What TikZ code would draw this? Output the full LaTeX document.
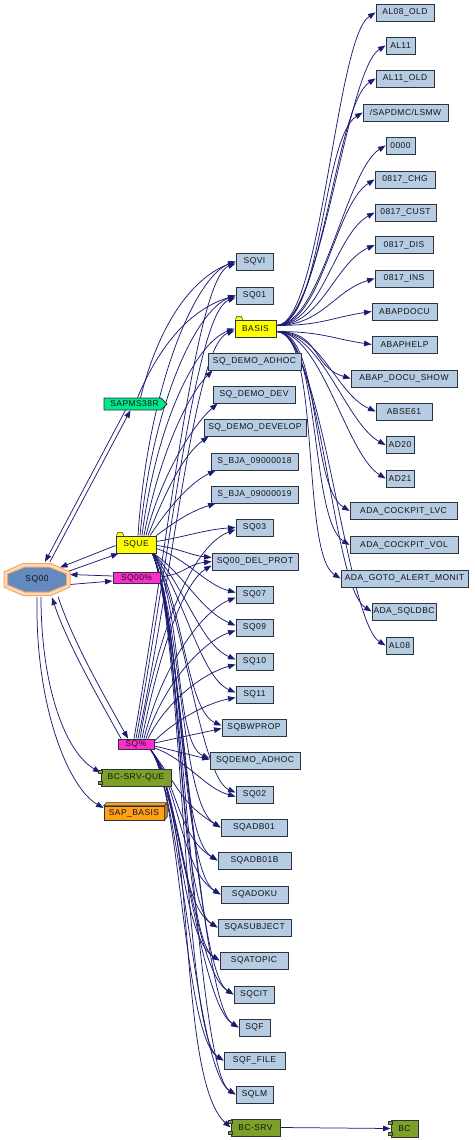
\documentclass[tikz,border=0pt]{standalone}
\usepackage{fontspec}
\setmainfont{Liberation Sans}[LetterSpace=5]
\usetikzlibrary{arrows.meta,calc}
\definecolor{boxc}{RGB}{182,204,226}
\definecolor{bord}{RGB}{45,50,60}
\definecolor{edgec}{RGB}{28,28,115}
\definecolor{octf}{RGB}{98,138,190}
\definecolor{octr}{RGB}{245,165,95}
\definecolor{cdsg}{RGB}{0,232,140}
\definecolor{yel}{RGB}{255,255,0}
\definecolor{mag}{RGB}{255,45,205}
\definecolor{oli}{RGB}{125,160,40}
\definecolor{orn}{RGB}{255,160,25}
\pgfdeclarelayer{bg}\pgfsetlayers{bg,main}
\begin{document}
\begin{tikzpicture}[x=1pt,y=-1pt,
  every node/.style={font=\fontsize{8.5}{10}\selectfont, text=black!92, inner sep=0pt},
  bx/.style={draw=bord, line width=0.9pt, fill=boxc, minimum height=17pt},
  fold/.style={bx, fill=yel},
  magb/.style={draw=bord, line width=0.9pt, fill=mag},
  comp/.style={bx, fill=oli},
  conn/.style={draw=edgec, line width=0.75pt, -{Triangle[length=7.5pt,width=5.5pt]}},
]
\useasboundingbox (0,0) rectangle (474,1140);
% ---------- right column ----------
\node[bx,minimum width=58pt] (r1) at (405,12.5) {AL08\_OLD};
\node[bx,minimum width=29pt] (r2) at (400.5,45.5) {AL11};
\node[bx,minimum width=58pt] (r3) at (405,78.5) {AL11\_OLD};
\node[bx,minimum width=85pt] (r4) at (405.5,112.5) {/SAPDMC/LSMW};
\node[bx,minimum width=29pt] (r5) at (400.5,145.5) {0000};
\node[bx,minimum width=60pt] (r6) at (405,179.5) {0817\_CHG};
\node[bx,minimum width=61pt] (r7) at (405.5,212.5) {0817\_CUST};
\node[bx,minimum width=58pt] (r8) at (404,245) {0817\_DIS};
\node[bx,minimum width=58pt] (r9) at (404,278.5) {0817\_INS};
\node[bx,minimum width=65pt] (r10) at (404.5,311.5) {ABAPDOCU};
\node[bx,minimum width=65pt] (r11) at (404.5,344.5) {ABAPHELP};
\node[bx,minimum width=106pt] (r12) at (404,378.5) {ABAP\_DOCU\_SHOW};
\node[bx,minimum width=56pt] (r13) at (404,411.5) {ABSE61};
\node[bx,minimum width=28pt] (r14) at (400,445) {AD20};
\node[bx,minimum width=28pt] (r15) at (400,478.5) {AD21};
\node[bx,minimum width=107pt] (r16) at (403.5,511) {ADA\_COCKPIT\_LVC};
\node[bx,minimum width=108pt] (r17) at (404,545) {ADA\_COCKPIT\_VOL};
\node[bx,minimum width=127pt] (r18) at (404.5,578.5) {ADA\_GOTO\_ALERT\_MONIT};
\node[bx,minimum width=64pt] (r19) at (404,611.5) {ADA\_SQLDBC};
\node[bx,minimum width=27pt] (r20) at (399.5,645.5) {AL08};
% ---------- middle column ----------
\node[bx,minimum width=37pt] (sqvi) at (254.5,261.5) {SQVI};
\node[bx,minimum width=37pt] (sq01) at (254.5,295.5) {SQ01};
\node[fold,minimum width=41pt] (basis) at (255.5,328.5) {BASIS};
\node[bx,minimum width=93pt] (sqda) at (254.5,361.5) {SQ\_DEMO\_ADHOC};
\node[bx,minimum width=82pt] (sqdd) at (254,394.5) {SQ\_DEMO\_DEV};
\node[bx,minimum width=102pt] (sqddv) at (255,427.5) {SQ\_DEMO\_DEVELOP};
\node[bx,minimum width=87pt] (sbja18) at (254.5,461.5) {S\_BJA\_09000018};
\node[bx,minimum width=87pt] (sbja19) at (254.5,494.5) {S\_BJA\_09000019};
\node[bx,minimum width=37pt] (sq03) at (254.5,527.5) {SQ03};
\node[bx,minimum width=86pt] (sqdel) at (255,561.5) {SQ00\_DEL\_PROT};
\node[bx,minimum width=37pt] (sq07) at (254.5,594.5) {SQ07};
\node[bx,minimum width=37pt] (sq09) at (254.5,627.5) {SQ09};
\node[bx,minimum width=37pt] (sq10) at (254.5,661.5) {SQ10};
\node[bx,minimum width=37pt] (sq11) at (254.5,694.5) {SQ11};
\node[bx,minimum width=64pt] (sqbw) at (254,727.5) {SQBWPROP};
\node[bx,minimum width=90pt] (sqdemo) at (255,760.5) {SQDEMO\_ADHOC};
\node[bx,minimum width=37pt] (sq02) at (254.5,794.5) {SQ02};
\node[bx,minimum width=66pt] (adb01) at (254,827.5) {SQADB01};
\node[bx,minimum width=73pt] (adb01b) at (254.5,860.5) {SQADB01B};
\node[bx,minimum width=67pt] (adoku) at (254.5,894.5) {SQADOKU};
\node[bx,minimum width=73pt] (asubj) at (254.5,927.5) {SQASUBJECT};
\node[bx,minimum width=68pt] (atopic) at (254,960.5) {SQATOPIC};
\node[bx,minimum width=40pt] (sqcit) at (254,994.5) {SQCIT};
\node[bx,minimum width=31pt] (sqf) at (254.5,1027.5) {SQF};
\node[bx,minimum width=61pt] (sqffile) at (254.5,1060.5) {SQF\_FILE};
\node[bx,minimum width=37pt] (sqlm) at (254.5,1094.5) {SQLM};
\node[comp,minimum width=49pt] (bcsrv) at (255.5,1127.5) {BC-SRV};
\node[comp,minimum width=27pt] (bc) at (404.5,1128.5) {BC};
% ---------- left part ----------
\draw[draw=bord, fill=cdsg, line width=0.8pt] (104,398) -- (161,398) -- (167,404) -- (161,410) -- (104,410) -- cycle;
\node[minimum width=63pt, minimum height=12pt] (sap) at (134.5,404) {SAPMS38R};
\node[fold,minimum width=40pt] (sque) at (136,544.5) {SQUE};
\node[magb,minimum width=47pt,minimum height=11pt] (sq00p) at (136.5,578) {SQ00\%};
\node[magb,minimum width=36pt,minimum height=10pt] (sqp) at (136,744) {SQ\%};
\node[comp,minimum width=70pt] (bcq) at (136,777.5) {BC-SRV-QUE};
\node[draw=bord, line width=0.8pt, fill=orn, minimum width=60pt, minimum height=14pt] (sapb) at (134,813) {SAP\_BASIS};
\draw[draw=bord, fill=orn!75!black, line width=0.6pt] (sapb.north east) -- ++(3,-3) -- ++(0,14) -- (sapb.south east) -- cycle;
\draw[draw=bord, fill=orn, line width=0.6pt] (sapb.north west) -- ++(3,-3) -- ++(60,0) -- (sapb.north east) -- cycle;
\begin{scope}[shift={(37,579.5)}]
\draw[octr, line width=1pt, fill=white!60!octr] (-14,-16) -- (14,-16) -- (33,-7.5) -- (33,7.5) -- (14,16) -- (-14,16) -- (-33,7.5) -- (-33,-7.5) -- cycle;
\draw[octr, line width=1pt, fill=octf] (-12,-12.5) -- (12,-12.5) -- (29.5,-5.5) -- (29.5,5.5) -- (12,12.5) -- (-12,12.5) -- (-29.5,5.5) -- (-29.5,-5.5) -- cycle;
\end{scope}
\node[minimum width=66pt,minimum height=35pt] (sq00) at (37,579.5) {SQ00};
% decorations
\foreach \n in {sque,basis}
  \draw[draw=bord, fill=yel, line width=0.6pt] ([xshift=1pt]\n.north west) -- ++(1,-3) -- ++(5,0) -- ++(1,3);
\foreach \n in {bcq,bcsrv,bc}{
  \draw[draw=bord, fill=oli, line width=0.5pt] ([yshift=-3.5pt]\n.north west) +(-2,-1.5) rectangle +(2,1.5);
  \draw[draw=bord, fill=oli, line width=0.5pt] ([yshift=3.5pt]\n.south west) +(-2,-1.5) rectangle +(2,1.5);
}
% ---------- edges ----------
\begin{pgfonlayer}{bg}
\fill[white] (0,0) rectangle (474,1140);
% BASIS fan
\foreach \t/\d in {r1/25,r2/25,r3/25,r4/25,r5/25,r6/25,r7/22,r8/18,r9/12,r10/6}
  \draw[conn] ([yshift=3pt]basis.east) .. controls +(45,0) and +(-40,\d) .. (\t.west);
\foreach \t/\d in {r11/-6,r12/-12,r13/-18,r14/-22,r15/-25,r16/-25,r17/-25,r18/-25,r19/-25,r20/-25}
  \draw[conn] ([yshift=-3pt]basis.east) .. controls +(45,0) and +(-40,\d) .. (\t.west);
% SQ00 links
\draw[conn] ([xshift=13pt]sq00.north) -- ([xshift=-4pt]sap.south);
\draw[conn] ([xshift=-9pt]sap.south) -- ([xshift=8pt]sq00.north);
\draw[conn] ([yshift=-1pt]sque.west) -- ($(sq00.center)+(23,-12)$);
\draw[conn] ($(sq00.center)+(28,-7)$) -- ([xshift=3pt]sque.south west);
\draw[conn] ([yshift=2pt]sq00p.west) -- ($(sq00.center)+(33,-5)$);
\draw[conn] ($(sq00.center)+(33,5)$) -- ([yshift=-3pt]sq00p.west);
\draw[conn] ([xshift=-15pt]sqp.north) .. controls +(-25,-45) and +(15,45) .. ($(sq00.center)+(15,18)$);
\draw[conn] ($(sq00.center)+(21,17)$) .. controls +(15,45) and +(-25,-45) .. ([xshift=-8pt]sqp.north);
\draw[conn] ($(sq00.center)+(4,17.5)$) .. controls +(0,90) and +(-35,-20) .. ([yshift=5pt]bcq.west);
\draw[conn] ($(sq00.center)+(0,17.5)$) .. controls +(-2,110) and +(-35,-20) .. ([yshift=5pt]sapb.west);
% SAPMS38R
\draw[conn] ([xshift=6pt]sap.north) .. controls +(20,-80) and +(-40,15) .. (sqvi.west);
\draw[conn] ([xshift=3pt]sap.north) .. controls +(25,-60) and +(-40,12) .. (sq01.west);
% SQUE
\draw[conn] ([xshift=2pt]sque.north) .. controls +(10,-150) and +(-40,15) .. (sqvi.west);
\draw[conn] ([xshift=4pt]sque.north) .. controls +(12,-130) and +(-40,15) .. (sq01.west);
\draw[conn] ([xshift=6pt]sque.north) .. controls +(14,-110) and +(-40,15) .. (basis.west);
\draw[conn] ([xshift=8pt]sque.north) .. controls +(15,-80) and +(-25,25) .. ([xshift=5pt]sqda.south west);
\draw[conn] ([xshift=10pt]sque.north) .. controls +(15,-60) and +(-25,22) .. ([xshift=5pt]sqdd.south west);
\draw[conn] ([xshift=12pt]sque.north) .. controls +(18,-45) and +(-25,18) .. ([xshift=5pt]sqddv.south west);
\draw[conn] ([xshift=14pt]sque.north) .. controls +(20,-30) and +(-25,12) .. ([xshift=5pt]sbja18.south west);
\draw[conn] (sque.north east) .. controls +(20,-15) and +(-25,8) .. ([xshift=5pt]sbja19.south west);
\draw[conn] ([yshift=3pt]sque.east) .. controls +(30,-5) and +(-30,2) .. (sq03.west);
\draw[conn] ([yshift=-1pt]sque.east) .. controls +(20,2) and +(-20,-2) .. ([yshift=4pt]sqdel.west);
\draw[conn] ([yshift=-4pt]sque.east) .. controls +(30,10) and +(-30,-8) .. ([yshift=2pt]sq07.west);
\foreach \t/\a in {sq09/20,sq10/30,sq11/40,sqbw/50,sqdemo/60,sq02/60}
  \draw[conn] ([xshift=-3pt]sque.south east) .. controls +(30,\a) and +(-35,-15) .. ([yshift=2pt]\t.west);
% SQ%
\foreach \t/\dx/\cx/\cy in {sqvi/-2/35/-200,sq01/0/35/-190,basis/2/38/-180,sq03/4/20/-120}
  \draw[conn] ([xshift=\dx pt]sqp.north) .. controls +(\cx,\cy) and +(-40,15) .. ([yshift=-2pt]\t.west);
\draw[conn] ([xshift=6pt]sqp.north) .. controls +(20,-100) and +(-25,15) .. ([yshift=-4pt]sqdel.west);
\draw[conn] ([xshift=8pt]sqp.north) .. controls +(20,-80) and +(-30,12) .. ([yshift=-3pt]sq07.west);
\draw[conn] ([xshift=10pt]sqp.north) .. controls +(20,-60) and +(-30,10) .. ([yshift=-3pt]sq09.west);
\draw[conn] ([xshift=12pt]sqp.north) .. controls +(20,-40) and +(-30,8) .. ([yshift=-3pt]sq10.west);
\draw[conn] ([yshift=3pt]sqp.east) .. controls +(20,-20) and +(-30,6) .. ([yshift=-3pt]sq11.west);
\draw[conn] ([yshift=1pt]sqp.east) -- ([yshift=-1pt]sqbw.west);
\draw[conn] ([yshift=-2pt]sqp.east) -- ([yshift=1pt]sqdemo.west);
\draw[conn] ([yshift=-4pt]sqp.east) .. controls +(30,10) and +(-30,-8) .. ([yshift=-2pt]sq02.west);
% SQ00%
\draw[conn] ([yshift=1pt]sq00p.east) .. controls +(25,-3) and +(-25,3) .. (sqdel.west);
% bottom bundles
\foreach \t in {adb01,adb01b,adoku,asubj,atopic,sqcit,sqf,sqffile,sqlm}{
  \draw[conn] ([xshift=-4pt]sque.south east) .. controls +(30,70) and +(-40,-25) .. (\t.west);
  \draw[conn] ([xshift=-4pt]sqp.south east) .. controls +(30,40) and +(-40,-25) .. (\t.west);
}
% BC
\draw[conn] ([xshift=-8pt]bcq.south east) .. controls +(30,60) and +(-50,-45) .. (bcsrv.west);
\draw[conn] (bcsrv.east) -- (bc.west);
\end{pgfonlayer}
\end{tikzpicture}
\end{document}
